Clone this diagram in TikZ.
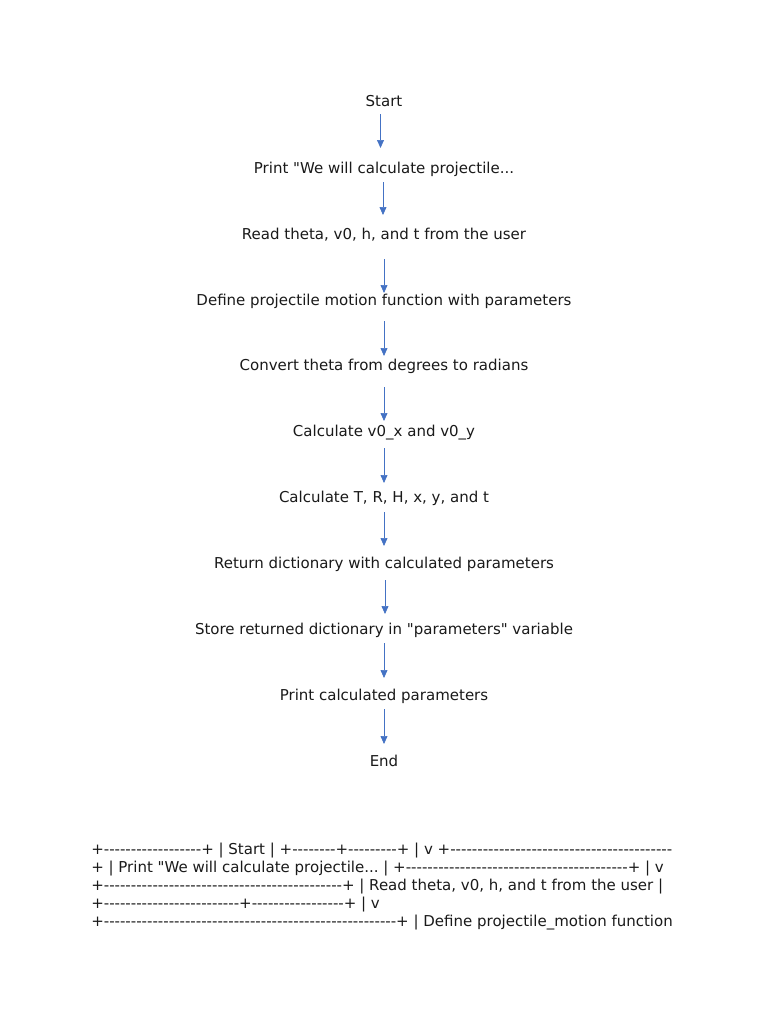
\documentclass[tikz,border=0pt]{standalone}
\usepackage{fontspec}
\setmonofont{DejaVu Sans}
\usetikzlibrary{arrows.meta}
\definecolor{arrowblue}{RGB}{68,114,196}
\definecolor{txt}{RGB}{26,26,26}
\newcount\dashcnt
\newcommand\dashrun[1]{\dashcnt=#1\relax\loop\ifnum\dashcnt>0 -\advance\dashcnt by -1\relax\repeat}
\tikzset{
  flowtext/.style={anchor=base, inner sep=0pt, text=txt, font=\fontsize{11.25}{13.5}\selectfont\ttfamily},
  asciiblock/.style={anchor=base west, inner sep=0pt, align=left, text=txt, font=\fontsize{11.25}{13.5}\selectfont\ttfamily},
  arr/.style={draw=arrowblue, line width=0.55pt, -{Triangle[width=5.2pt,length=6pt]}}
}
\newcommand\flowarrow[5]{\draw[arr] ([shift={(#3,#4)}]#1.base) -- ([shift={(#3,#5)}]#2.base);}
\begin{document}
\begin{tikzpicture}[x=0.75pt,y=-0.75pt]
\useasboundingbox[fill=white] (0,0) rectangle (768,1024);
\node[flowtext] (n1) at (384,106.5) {Start};
\node[flowtext] (n2) at (384,173) {Print "We will calculate projectile...};
\node[flowtext] (n3) at (384,239.5) {Read theta, v0, h, and t from the user};
\node[flowtext] (n4) at (384,305.5) {Define projectile motion function with parameters};
\node[flowtext] (n5) at (384,370.5) {Convert theta from degrees to radians};
\node[flowtext] (n6) at (384,436.5) {Calculate v0\_x and v0\_y};
\node[flowtext] (n7) at (384,502.5) {Calculate T, R, H, x, y, and t};
\node[flowtext] (n8) at (384,568.5) {Return dictionary with calculated parameters};
\node[flowtext] (n9) at (384,634.5) {Store returned dictionary in "parameters" variable};
\node[flowtext] (n10) at (384,700.5) {Print calculated parameters};
\node[flowtext] (n11) at (384,766.5) {End};
\flowarrow{n1}{n2}{-3.5}{7.5}{-25}
\flowarrow{n2}{n3}{-1}{9}{-24.5}
\flowarrow{n3}{n4}{0}{19.5}{-12.5}
\flowarrow{n4}{n5}{0}{15.5}{-14.5}
\flowarrow{n5}{n6}{0}{16.5}{-15.5}
\flowarrow{n6}{n7}{0}{11.5}{-19.5}
\flowarrow{n7}{n8}{0}{9.5}{-22.5}
\flowarrow{n8}{n9}{1}{11.5}{-20.5}
\flowarrow{n9}{n10}{0}{8.5}{-22.5}
\flowarrow{n10}{n11}{0}{8.5}{-22.5}
\node[asciiblock] (ascii) at (91,926.5) {%
+\dashrun{18}+ | Start | +\dashrun{8}+\dashrun{9}+ | v +\dashrun{41}\\
+ | Print "We will calculate projectile... | +\dashrun{41}+ | v\\
+\dashrun{44}+ | Read theta, v0, h, and t from the user |\\
+\dashrun{25}+\dashrun{17}+ | v\\
+\dashrun{54}+ | Define projectile\_motion function};
\end{tikzpicture}
\end{document}
